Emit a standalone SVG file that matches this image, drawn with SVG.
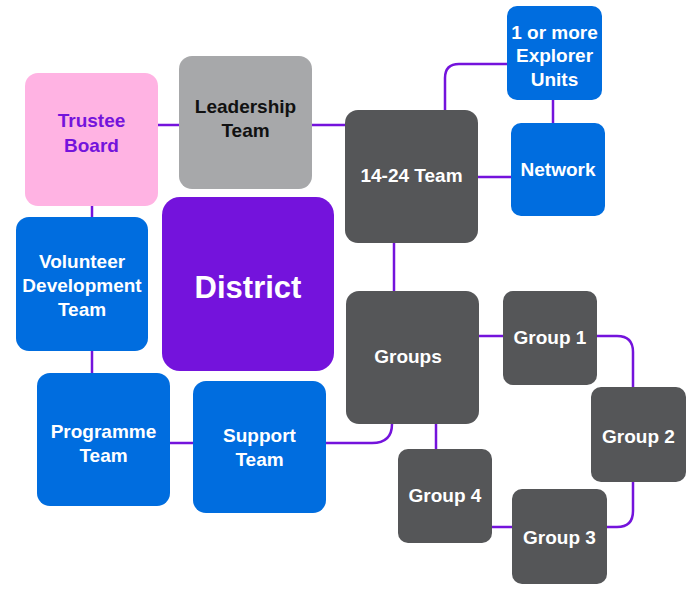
<svg xmlns="http://www.w3.org/2000/svg" width="700" height="592" viewBox="0 0 700 592">
<style>
.c{fill:none;stroke:#7413DC;stroke-width:2.5}
.t{font-family:"Liberation Sans",Arial,sans-serif;font-weight:bold;font-size:19px;text-anchor:middle;fill:#fff}
.pink{fill:#FFB3E3}
.gray{fill:#A7A8AA}
.dark{fill:#555658}
.blue{fill:#006DDF}
.purple{fill:#7413DC}
</style>
<rect width="700" height="592" fill="#fff"/>
<g id="connectors">
<path class="c" d="M158,125 H179"/>
<path class="c" d="M312,125 H345"/>
<path class="c" d="M92,206 V217"/>
<path class="c" d="M92,351 V373"/>
<path class="c" d="M170,443 H193"/>
<path class="c" d="M326,443 H372 Q392,443 392,424"/>
<path class="c" d="M445,110 V78 Q445,64 459,64 H507"/>
<path class="c" d="M553,100 V123"/>
<path class="c" d="M478,177 H511"/>
<path class="c" d="M394,243 V291"/>
<path class="c" d="M479,336 H503"/>
<path class="c" d="M597,336 H617 Q633,336 633,352 V387"/>
<path class="c" d="M633,482 V511 Q633,527 617,527 H607"/>
<path class="c" d="M492,527 H512"/>
<path class="c" d="M436,424 V449"/>
</g>
<g id="trustee-board"><rect class="pink" x="25" y="73" width="133" height="133" rx="13"/><text class="t" x="91.5" y="127" style="fill:#7413DC">Trustee</text><text class="t" x="91.5" y="152" style="fill:#7413DC">Board</text></g>
<g id="leadership-team"><rect class="gray" x="179" y="56" width="133" height="133" rx="13"/><text class="t" x="245.5" y="113" style="fill:#111">Leadership</text><text class="t" x="245.5" y="137" style="fill:#111">Team</text></g>
<g id="district"><rect class="purple" x="162" y="197" width="172" height="174" rx="18"/><text class="t" x="248" y="298" style="font-size:31px">District</text></g>
<g id="volunteer-development-team"><rect class="blue" x="16" y="217" width="132" height="134" rx="13"/><text class="t" x="82" y="268">Volunteer</text><text class="t" x="82" y="292">Development</text><text class="t" x="82" y="316">Team</text></g>
<g id="programme-team"><rect class="blue" x="37" y="373" width="133" height="133" rx="13"/><text class="t" x="103.5" y="438">Programme</text><text class="t" x="103.5" y="462">Team</text></g>
<g id="support-team"><rect class="blue" x="193" y="381" width="133" height="132" rx="13"/><text class="t" x="259.5" y="442">Support</text><text class="t" x="259.5" y="466">Team</text></g>
<g id="team-14-24"><rect class="dark" x="345" y="110" width="133" height="133" rx="13"/><text class="t" x="411.5" y="182">14-24 Team</text></g>
<g id="explorer-units"><rect class="blue" x="507" y="6" width="95" height="94" rx="10"/><text class="t" x="554.5" y="39">1 or more</text><text class="t" x="554.5" y="62">Explorer</text><text class="t" x="554.5" y="86">Units</text></g>
<g id="network"><rect class="blue" x="511" y="123" width="94" height="93" rx="10"/><text class="t" x="558" y="176">Network</text></g>
<g id="groups"><rect class="dark" x="346" y="291" width="133" height="133" rx="13"/><text class="t" x="408" y="363">Groups</text></g>
<g id="group-1"><rect class="dark" x="503" y="291" width="94" height="94" rx="10"/><text class="t" x="550" y="344">Group 1</text></g>
<g id="group-2"><rect class="dark" x="591" y="387" width="95" height="95" rx="10"/><text class="t" x="638.5" y="443">Group 2</text></g>
<g id="group-3"><rect class="dark" x="512" y="489" width="95" height="95" rx="10"/><text class="t" x="559.5" y="544">Group 3</text></g>
<g id="group-4"><rect class="dark" x="398" y="449" width="94" height="94" rx="10"/><text class="t" x="445" y="502">Group 4</text></g>
</svg>
